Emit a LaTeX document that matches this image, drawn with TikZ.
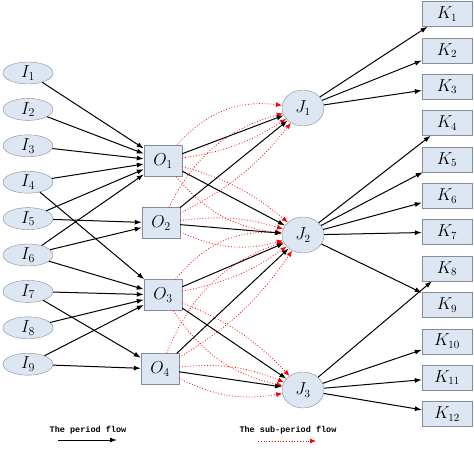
\documentclass[tikz,border=0pt]{standalone}
\usepackage{fontspec}
\setmonofont{Liberation Mono}
\usetikzlibrary{arrows.meta,shapes.geometric}

\definecolor{nodefill}{RGB}{221,231,243}
\definecolor{nodeline}{RGB}{135,140,150}

\tikzset{
  srcnode/.style={ellipse, draw=nodeline, fill=nodefill, minimum width=50pt, minimum height=22pt, inner sep=0pt, font=\fontsize{17}{20}\selectfont},
  opnode/.style={rectangle, draw=nodeline, fill=nodefill, minimum width=38pt, minimum height=31pt, inner sep=0pt, font=\fontsize{17}{20}\selectfont},
  jnode/.style={ellipse, draw=nodeline, fill=nodefill, minimum width=42pt, minimum height=36pt, inner sep=0pt, font=\fontsize{16}{19}\selectfont},
  knode/.style={rectangle, draw=nodeline, fill=nodefill, minimum width=50pt, minimum height=25pt, inner sep=0pt, font=\fontsize{16}{19}\selectfont},
  period/.style={-{Latex[length=7pt,width=5pt]}, line width=1pt, black},
  subperiod/.style={-{Latex[length=6pt,width=5pt]}, red, dotted, line width=0.8pt},
  legend/.style={font=\ttfamily\bfseries\fontsize{8.5}{10}\selectfont}
}

\begin{document}
\begin{tikzpicture}[x=1pt, y=-1pt]

    \useasboundingbox (0,0) rectangle (474,450);

    % Nodi I
    \node[srcnode] (I1) at (28,73) {$I_1$};
    \node[srcnode] (I2) at (28,109.4) {$I_2$};
    \node[srcnode] (I3) at (28,145.8) {$I_3$};
    \node[srcnode] (I4) at (28,182.2) {$I_4$};
    \node[srcnode] (I5) at (28,218.6) {$I_5$};
    \node[srcnode] (I6) at (28,255) {$I_6$};
    \node[srcnode] (I7) at (28,291.4) {$I_7$};
    \node[srcnode] (I8) at (28,327.8) {$I_8$};
    \node[srcnode] (I9) at (28,364.2) {$I_9$};

    % Nodi O
    \node[opnode] (O1) at (163,161) {$O_1$};
    \node[opnode] (O2) at (161,223) {$O_2$};
    \node[opnode] (O3) at (163,295) {$O_3$};
    \node[opnode] (O4) at (160,369) {$O_4$};

    % Nodi J
    \node[jnode] (J1) at (303,108) {$J_1$};
    \node[jnode] (J2) at (303,235) {$J_2$};
    \node[jnode] (J3) at (303,390) {$J_3$};

    % Nodi K
    \node[knode] (K1) at (447,14) {$K_1$};
    \node[knode] (K2) at (447,50.4) {$K_2$};
    \node[knode] (K3) at (447,86.7) {$K_3$};
    \node[knode] (K4) at (447,123) {$K_4$};
    \node[knode] (K5) at (447,159.5) {$K_5$};
    \node[knode] (K6) at (447,195.8) {$K_6$};
    \node[knode] (K7) at (447,232) {$K_7$};
    \node[knode] (K8) at (447,268.5) {$K_8$};
    \node[knode] (K9) at (447,305) {$K_9$};
    \node[knode] (K10) at (447,341.3) {$K_{10}$};
    \node[knode] (K11) at (447,377.6) {$K_{11}$};
    \node[knode] (K12) at (447,414) {$K_{12}$};

    % I -> O
    \draw[period] (I1) -- (O1);
    \draw[period] (I2) -- (O1);
    \draw[period] (I3) -- (O1);
    \draw[period] (I4) -- (O1);
    \draw[period] (I5) -- (O1);
    \draw[period] (I6) -- (O1);
    \draw[period] (I4) -- (O3);
    \draw[period] (I5) -- (O2);
    \draw[period] (I6) -- (O2);
    \draw[period] (I6) -- (O3);
    \draw[period] (I7) -- (O3);
    \draw[period] (I7) -- (O4);
    \draw[period] (I8) -- (O3);
    \draw[period] (I9) -- (O3);
    \draw[period] (I9) -- (O4);

    % Flusso sub-periodo O -> J
    \draw[subperiod] (O1) to[bend left=28] (J1);
    \draw[subperiod] (O1) to[bend right=12] (J1);
    \draw[subperiod] (O1) to[bend left=12] (J2);
    \draw[subperiod] (O1) to[bend right=22] (J2);
    \draw[subperiod] (O2) to[bend left=24] (J1);
    \draw[subperiod] (O2) to[bend right=12] (J1);
    \draw[subperiod] (O2) to[bend left=12] (J2);
    \draw[subperiod] (O2) to[bend right=20] (J2);
    \draw[subperiod] (O3) to[bend left=28] (J2);
    \draw[subperiod] (O3) to[bend right=12] (J2);
    \draw[subperiod] (O3) to[bend left=12] (J3);
    \draw[subperiod] (O3) to[bend right=22] (J3);
    \draw[subperiod] (O4) to[bend left=24] (J2);
    \draw[subperiod] (O4) to[bend right=12] (J2);
    \draw[subperiod] (O4) to[bend left=14] (J3);
    \draw[subperiod] (O4) to[bend right=18] (J3);

    % O -> J
    \draw[period] (O1) -- (J1);
    \draw[period] (O1) -- (J2);
    \draw[period] (O2) -- (J1);
    \draw[period] (O2) -- (J2);
    \draw[period] (O3) -- (J2);
    \draw[period] (O3) -- (J3);
    \draw[period] (O4) -- (J2);
    \draw[period] (O4) -- (J3);

    % J -> K
    \draw[period] (J1) -- (K1);
    \draw[period] (J1) -- (K2);
    \draw[period] (J1) -- (K3);
    \draw[period] (J2) -- (K4);
    \draw[period] (J2) -- (K5);
    \draw[period] (J2) -- (K6);
    \draw[period] (J2) -- (K7);
    \draw[period] (J2) -- (K9);
    \draw[period] (J3) -- (K8);
    \draw[period] (J3) -- (K10);
    \draw[period] (J3) -- (K11);
    \draw[period] (J3) -- (K12);

    % Legenda
    \node[legend] (pflow) at (88,430) {The period flow};
    \coordinate (pA) at (58,440);
    \coordinate (pB) at (117,440);
    \draw[period] (pA) -- (pB);
    \node[legend] (sflow) at (288,430) {The sub-period flow};
    \coordinate (sA) at (258,441);
    \coordinate (sB) at (316,441);
    \draw[subperiod] (sA) -- (sB);

\end{tikzpicture}
\end{document}
